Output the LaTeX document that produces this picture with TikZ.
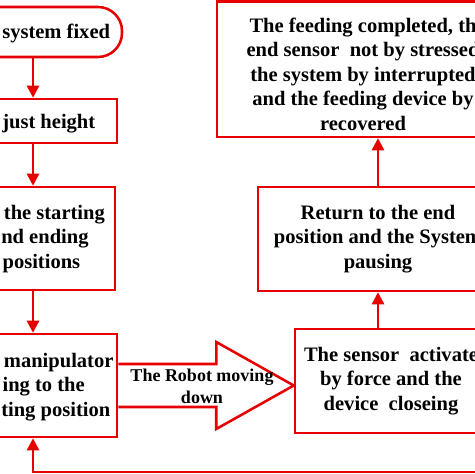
\documentclass[tikz,border=0pt]{standalone}
\usepackage{fontspec}
\setmainfont{Liberation Serif}
\usetikzlibrary{arrows.meta,calc}
\definecolor{flowred}{RGB}{230,0,0}

\tikzset{every picture/.style={line width=1.9pt}}
\tikzset{
  box/.style={draw=flowred, rectangle, inner sep=0pt},
  flow/.style={draw=flowred, -{Triangle[length=9pt,width=9pt]}},
  lbl/.style={font=\fontsize{15.4}{18.4}\selectfont\bfseries, inner sep=0pt},
  smalllbl/.style={font=\fontsize{13.5}{16.5}\selectfont\bfseries, inner sep=0pt},
}

\begin{document}
\begin{tikzpicture}[x=0.75pt,y=0.75pt,yscale=-1,xscale=1]
\useasboundingbox (0,0) rectangle (474,474);

%Flowchart: Terminator [id:fixed]
\node (fixed) [box, rounded corners=18pt, minimum width=133.5pt, minimum height=37.5pt] at (33,32) {};
%Shape: Rectangle [id:adjust]
\node (adjust) [box, minimum width=126pt, minimum height=33pt] at (33,121) {};
%Shape: Rectangle [id:setpos]
\node (setpos) [box, minimum width=123pt, minimum height=77.25pt] at (33,238.5) {};
%Shape: Rectangle [id:manip]
\node (manip) [box, minimum width=126pt, minimum height=77.25pt] at (33,385.5) {};
%Shape: Rectangle [id:sensor]
\node (sensor) [box, minimum width=172.5pt, minimum height=78pt] at (410,381) {};
%Shape: Rectangle [id:ret]
\node (ret) [box, minimum width=180pt, minimum height=78pt] at (378,239) {};
%Shape: Rectangle [id:feed]
\node (feed) [box, minimum width=225pt, minimum height=101.6pt] at (367,69.25) {};
\coordinate (fbend) at (480,472);

%Straight Lines [id:down1]
\draw[flow] (fixed) -- (adjust);
%Straight Lines [id:down2]
\draw[flow] (adjust) -- (setpos);
%Straight Lines [id:down3]
\draw[flow] (setpos) -- (manip);
%Shape: Right Arrow [id:robot]
\draw[draw=flowred] ($(manip.east)+(0,-21.5)$) -- ++(98,0) -- ++(0,-22) -- (sensor.west |- manip.east) -- ++(-77.5,43.5) -- ++(0,-22) -- ($(manip.east)+(0,21.5)$);
%Straight Lines [id:up1]
\draw[flow] (sensor.north -| ret.north) -- (ret.south);
%Straight Lines [id:up2]
\draw[flow] (ret.north) -- (ret.north |- feed.south);
%Straight Lines [id:back]
\draw[flow] (fbend) -| (manip.south);

% Text Node
\node (fixedtxt) [lbl, anchor=base west] at (1,39) {system fixed};
% Text Node
\node (adjtxt) [lbl, anchor=base west] at (1,128) {just height};
% Text Node
\node (settxt) [lbl, align=left, anchor=west] at (0,239) {\hspace*{2pt}the starting\\nd ending\\\hspace*{1pt}positions};
% Text Node
\node (maniptxt) [lbl, align=left, anchor=west] at (0,387) {\hspace*{2pt}manipulator\\\hspace*{1pt}ing to the\\ting position};
% Text Node
\node (robottxt) [smalllbl, align=center] at (202,386.5) {The Robot moving\\down};
% Text Node
\node (senstxt) [lbl, align=center] at (391,381) {The sensor~ activate\\by force and the\\device~ closeing};
% Text Node
\node (rettxt) [lbl, align=center] at (378,239) {Return to the end\\position and the System\\pausing};
% Text Node
\node (feedtxt) [lbl, align=center] at (363,74) {The feeding completed, th\\end sensor~ not by stressed\\the system by interrupted\\and the feeding device by\\recovered};

\end{tikzpicture}
\end{document}
